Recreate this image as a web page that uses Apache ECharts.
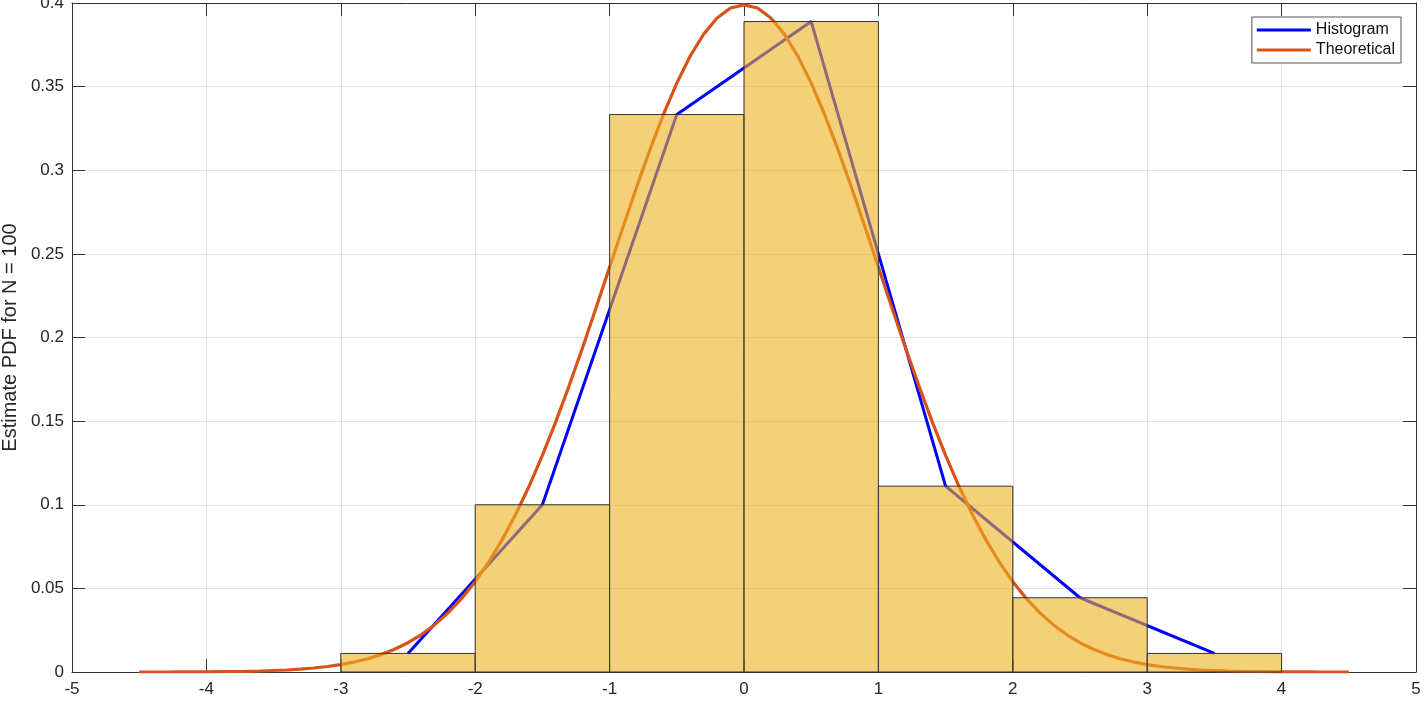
<!DOCTYPE html>
<html>
<head>
<meta charset="utf-8">
<script src="https://cdn.jsdelivr.net/npm/echarts@6/dist/echarts.min.js"></script>
<style>html,body{margin:0;padding:0;background:#fff}#c{width:1424px;height:705px}</style>
</head>
<body>
<div id="c"></div>
<script>
// Histogram bins (edges) and normalized heights
const binEdges = [-3, -2, -1, 0, 1, 2, 3, 4];
const binHeights = [0.0111, 0.1000, 0.3333, 0.3889, 0.1111, 0.0444, 0.0111];
// Histogram polyline through bin centers
const histX = [-2.5, -1.5, -0.5, 0.5, 1.5, 2.5, 3.5];
const histY = [0.0111, 0.1000, 0.3333, 0.3889, 0.1111, 0.0444, 0.0111];
// Theoretical curve (x from -4.5 to 4.5, step 0.1)
const theoX = [-4.5,-4.4,-4.3,-4.2,-4.1,-4.0,-3.9,-3.8,-3.7,-3.6,-3.5,-3.4,-3.3,-3.2,-3.1,-3.0,-2.9,-2.8,-2.7,-2.6,-2.5,-2.4,-2.3,-2.2,-2.1,-2.0,-1.9,-1.8,-1.7,-1.6,-1.5,-1.4,-1.3,-1.2,-1.1,-1.0,-0.9,-0.8,-0.7,-0.6,-0.5,-0.4,-0.3,-0.2,-0.1,0,0.1,0.2,0.3,0.4,0.5,0.6,0.7,0.8,0.9,1.0,1.1,1.2,1.3,1.4,1.5,1.6,1.7,1.8,1.9,2.0,2.1,2.2,2.3,2.4,2.5,2.6,2.7,2.8,2.9,3.0,3.1,3.2,3.3,3.4,3.5,3.6,3.7,3.8,3.9,4.0,4.1,4.2,4.3,4.4,4.5];
const theoY = [0.0000,0.0000,0.0000,0.0001,0.0001,0.0001,0.0002,0.0003,0.0004,0.0006,0.0009,0.0012,0.0017,0.0024,0.0033,0.0044,0.0060,0.0079,0.0104,0.0136,0.0175,0.0224,0.0283,0.0355,0.0440,0.0540,0.0656,0.0790,0.0940,0.1109,0.1295,0.1497,0.1714,0.1942,0.2179,0.2420,0.2661,0.2897,0.3123,0.3332,0.3521,0.3683,0.3814,0.3910,0.3970,0.3989,0.3970,0.3910,0.3814,0.3683,0.3521,0.3332,0.3123,0.2897,0.2661,0.2420,0.2179,0.1942,0.1714,0.1497,0.1295,0.1109,0.0940,0.0790,0.0656,0.0540,0.0440,0.0355,0.0283,0.0224,0.0175,0.0136,0.0104,0.0079,0.0060,0.0044,0.0033,0.0024,0.0017,0.0012,0.0009,0.0006,0.0004,0.0003,0.0002,0.0001,0.0001,0.0001,0.0000,0.0000,0.0000];
const yTitle = 'Estimate PDF for N = 100';
const legendNames = ['Histogram', 'Theoretical'];

const font = 'Arial, "Liberation Sans", Helvetica, sans-serif';
const chart = echarts.init(document.getElementById('c'));
const barData = binHeights.map((h, i) => [binEdges[i], binEdges[i + 1], h]);
const axisCol = '#333';

chart.setOption({
  animation: false,
  textStyle: { fontFamily: font },
  grid: { left: 72, right: 8, top: 3, bottom: 33, containLabel: false, outerBoundsMode: 'none' },
  legend: {
    data: legendNames.map(n => ({ name: n, icon: 'rect' })),
    orient: 'vertical', right: 23, top: 17,
    itemWidth: 54, itemHeight: 3, itemGap: 4,
    backgroundColor: '#fff', borderColor: '#555', borderWidth: 1,
    padding: [5, 6, 5, 5], borderRadius: 0,
    textStyle: { fontSize: 16, color: '#111', fontFamily: font }
  },
  xAxis: [
    { type: 'value', min: -5, max: 5, interval: 1,
      axisLine: { show: true, onZero: false, lineStyle: { color: axisCol, width: 1 } },
      axisTick: { show: true, inside: true, length: 13, lineStyle: { color: axisCol } },
      axisLabel: { color: '#262626', fontSize: 17, margin: 9, fontFamily: font },
      splitLine: { show: true, lineStyle: { color: '#e2e2e2', width: 1 } } },
    { type: 'value', min: -5, max: 5, interval: 1, position: 'top',
      axisLine: { show: true, onZero: false, lineStyle: { color: axisCol, width: 1 } },
      axisTick: { show: true, inside: true, length: 13, lineStyle: { color: axisCol } },
      axisLabel: { show: false }, splitLine: { show: false } }
  ],
  yAxis: [
    { type: 'value', min: 0, max: 0.4, interval: 0.05,
      name: yTitle, nameLocation: 'middle', nameRotate: 90, nameGap: 42,
      nameTextStyle: { fontSize: 20, color: '#262626', fontFamily: font },
      axisLine: { show: true, onZero: false, lineStyle: { color: axisCol, width: 1 } },
      axisTick: { show: true, inside: true, length: 13, lineStyle: { color: axisCol } },
      axisLabel: { color: '#262626', fontSize: 17, margin: 8, fontFamily: font },
      splitLine: { show: true, lineStyle: { color: '#e2e2e2', width: 1 } } },
    { type: 'value', min: 0, max: 0.4, interval: 0.05, position: 'right',
      axisLine: { show: true, onZero: false, lineStyle: { color: axisCol, width: 1 } },
      axisTick: { show: true, inside: true, length: 13, lineStyle: { color: axisCol } },
      axisLabel: { show: false }, splitLine: { show: false } }
  ],
  series: [
    { name: 'Histogram', type: 'line', z: 2,
      data: histX.map((x, i) => [x, histY[i]]),
      showSymbol: false, symbol: 'none',
      lineStyle: { color: '#0000ff', width: 3 }, itemStyle: { color: '#0000ff' } },
    { name: 'Theoretical', type: 'line', z: 2,
      data: theoX.map((x, i) => [x, theoY[i]]),
      showSymbol: false, symbol: 'none',
      lineStyle: { color: '#d95319', width: 3.2 }, itemStyle: { color: '#d95319' } },
    { name: 'bins', type: 'custom', z: 4,
      data: barData,
      renderItem: function (params, api) {
        const p0 = api.coord([api.value(0), api.value(2)]);
        const p1 = api.coord([api.value(1), 0]);
        return {
          type: 'rect',
          shape: { x: p0[0], y: p0[1], width: p1[0] - p0[0], height: p1[1] - p0[1] },
          style: { fill: 'rgba(237,177,32,0.6)', stroke: '#333', lineWidth: 1 }
        };
      }
    }
  ]
});
</script>
</body>
</html>
